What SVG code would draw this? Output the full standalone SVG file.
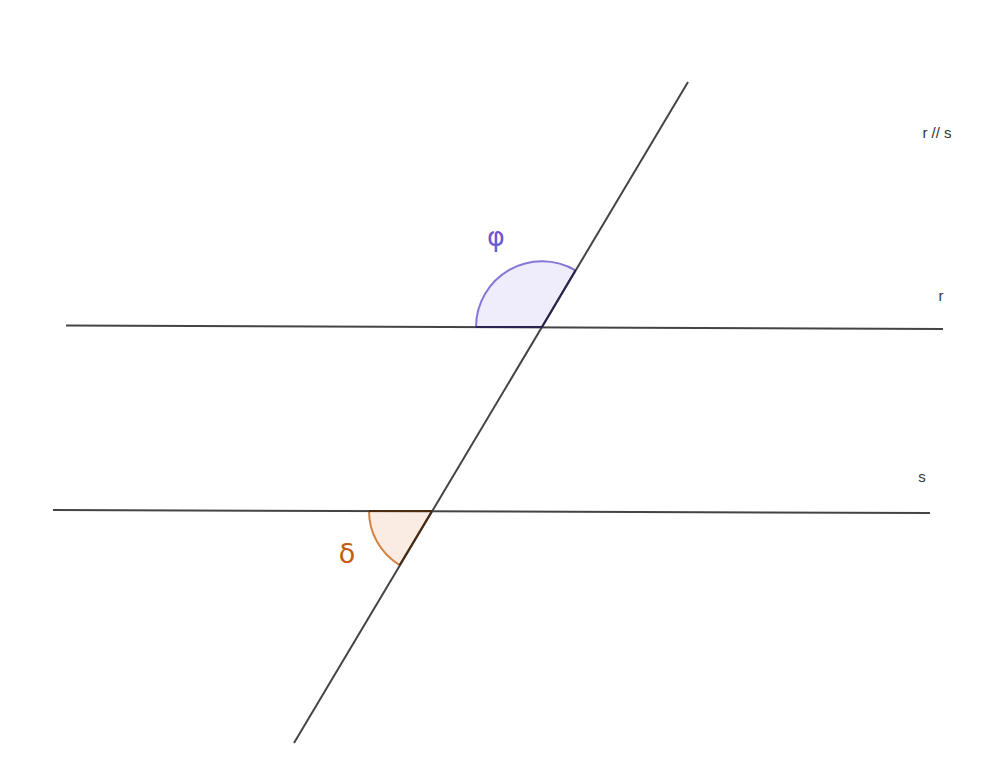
<svg xmlns="http://www.w3.org/2000/svg" width="1003" height="763" viewBox="0 0 1003 763">
<style>
.ln{stroke:#444;stroke-width:2;fill:none}
.lbl{font-family:"Liberation Sans",Arial,sans-serif;font-size:15px;fill:#333}
.gk{font-family:"DejaVu Sans","Liberation Sans",sans-serif;font-size:27px}
</style>
<rect width="1003" height="763" fill="#fff"/>
<g id="angle-phi">
<path d="M542,327 L476,327 A66,66 0 0 1 575.5,270.3 Z" fill="#efedfc" stroke="none"/>
<path d="M476,327 A66,66 0 0 1 575.5,270.3" fill="none" stroke="#8577d6" stroke-width="2"/>
<text class="gk" x="496" y="246" text-anchor="middle" fill="#6a5acd">φ</text>
</g>
<g id="angle-delta">
<path d="M432,511 L369,511 A63,63 0 0 0 399.7,565.1 Z" fill="#fbece3" stroke="none"/>
<path d="M369,511 A63,63 0 0 0 399.7,565.1" fill="none" stroke="#d5813f" stroke-width="2"/>
<text class="gk" x="347" y="563" text-anchor="middle" fill="#c65a0e">δ</text>
</g>
<g id="connectors">
<line class="ln" x1="66" y1="325.5" x2="943" y2="329"/>
<line class="ln" x1="53" y1="510" x2="930" y2="513"/>
<line class="ln" x1="294" y1="743" x2="688" y2="82"/>
<line x1="476" y1="327" x2="542" y2="327" stroke="#2a2550" stroke-width="2"/>
<line x1="542" y1="327" x2="575.5" y2="270.3" stroke="#2a2550" stroke-width="2"/>
<line x1="369" y1="511" x2="432" y2="511" stroke="#4a2a10" stroke-width="2"/>
<line x1="432" y1="511" x2="399.7" y2="565.1" stroke="#4a2a10" stroke-width="2"/>
</g>
<g id="labels">
<text class="lbl" x="937" y="138" text-anchor="middle">r // s</text>
<text class="lbl" x="941" y="301" text-anchor="middle">r</text>
<text class="lbl" x="922" y="482" text-anchor="middle">s</text>
</g>
</svg>
